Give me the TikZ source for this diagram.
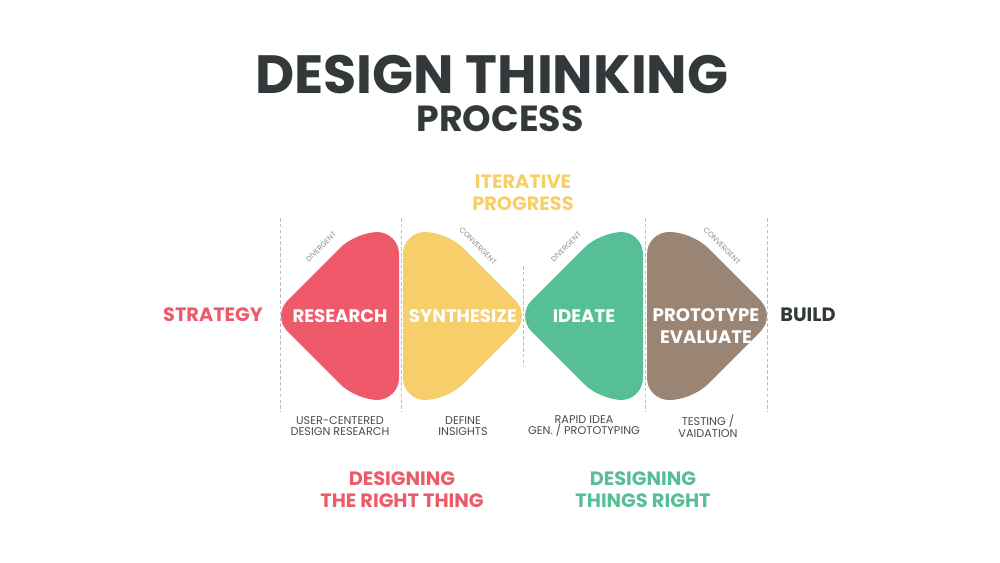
\documentclass[tikz,border=0pt]{standalone}
\usepackage{fontspec}
\setmainfont{Poppins}

\definecolor{darktext}{HTML}{33383B}
\definecolor{redstep}{HTML}{EE5A6A}
\definecolor{yellowstep}{HTML}{F6CE6A}
\definecolor{greenstep}{HTML}{57BF96}
\definecolor{brownstep}{HTML}{9A8574}
\definecolor{captiongray}{HTML}{4A4A4A}
\definecolor{hintgray}{HTML}{8C8C8C}

\begin{document}
\begin{tikzpicture}[x=0.03cm, y=-0.03cm,
  bigword/.style={font=\fontsize{16.5}{19}\selectfont\bfseries, align=center, inner sep=0pt},
  steplabel/.style={font=\fontsize{15.5}{19}\selectfont\bfseries, text=white, align=center, inner sep=0pt},
  caption/.style={font=\fontsize{9.6}{10}\selectfont, text=captiongray, align=center, inner sep=0pt},
  hint/.style={font=\fontsize{6.3}{7}\selectfont, text=hintgray, inner sep=0pt},
  guide/.style={draw=black!25, densely dashed, line width=0.5pt}]

\useasboundingbox (0,0) rectangle (1000,563);

% title
\node[font=\fontsize{46}{50}\selectfont\bfseries, text=darktext, inner sep=0pt] (title) at (492,75) {DESIGN THINKING};
\node[font=\fontsize{31}{35}\selectfont\bfseries, text=darktext, inner sep=0pt] (process) at (500,119) {PROCESS};
\node[bigword, text=yellowstep] (iterative) at (523,193) {ITERATIVE\\PROGRESS};

% guide lines
\foreach \gx in {280,401,645,767}
  \draw[guide] (\gx,218) -- (\gx,412);
\draw[guide] (523,266) -- (523,366);

% the four steps
\fill[redstep, rounded corners=0.66cm] (272,316) -- (356,232) -- (399,232) -- (399,400) -- (356,400) -- cycle;
\fill[yellowstep, rounded corners=0.66cm] (531,316) -- (447,232) -- (403,232) -- (403,400) -- (447,400) -- cycle;
\fill[greenstep, rounded corners=0.66cm] (516,316) -- (600,232) -- (643,232) -- (643,400) -- (600,400) -- cycle;
\fill[brownstep, rounded corners=0.66cm] (776,316) -- (692,232) -- (647,232) -- (647,400) -- (692,400) -- cycle;

\node[steplabel] (research) at (340,316) {RESEARCH};
\node[steplabel] (synthesize) at (463,316) {SYNTHESIZE};
\node[steplabel] (ideate) at (584,316) {IDEATE};
\node[steplabel] (prototype) at (706,326) {PROTOTYPE\\EVALUATE};

\node[hint, rotate=45] (div1) at (321,247) {DIVERGENT};
\node[hint, rotate=-45] (conv1) at (478,246) {CONVERGENT};
\node[hint, rotate=45] (div2) at (566,247) {DIVERGENT};
\node[hint, rotate=-45] (conv2) at (722,246) {CONVERGENT};

% sides
\node[bigword, text=redstep] (strategy) at (213,315) {STRATEGY};
\node[bigword, text=darktext] (build) at (808,315) {BUILD};

% captions
\node[caption] (cap1) at (340,426) {USER-CENTERED\\DESIGN RESEARCH};
\node[caption] (cap2) at (463,426) {DEFINE\\INSIGHTS};
\node[caption] (cap3) at (584,426) {RAPID IDEA\\GEN. / PROTOTYPING};
\node[caption] (cap4) at (708,426) {TESTING /\\VAIDATION};

% bottom
\node[bigword, text=redstep] (rightthing) at (402,490) {DESIGNING\\THE RIGHT THING};
\node[bigword, text=greenstep] (thingsright) at (643,490) {DESIGNING\\THINGS RIGHT};

\end{tikzpicture}
\end{document}
